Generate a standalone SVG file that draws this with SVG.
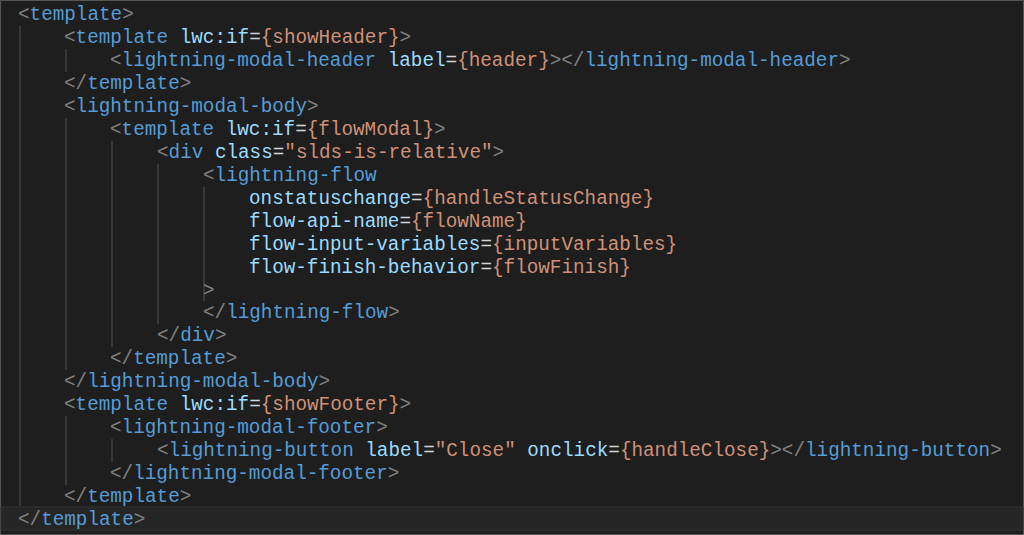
<svg xmlns="http://www.w3.org/2000/svg" width="1024" height="535" viewBox="0 0 1024 535">
<style>
text{font-family:"Liberation Mono","DejaVu Sans Mono",monospace;font-size:19.3px;white-space:pre}
.p{fill:#808080}.t{fill:#569cd6}.a{fill:#9cdcfe}.s{fill:#ce9178}.w{fill:#d4d4d4}
.g{stroke:#404040;stroke-width:1.5}
</style>
<rect width="1024" height="535" fill="#1e1e1e"/>
<rect x="0.5" y="0.5" width="1023" height="534" fill="none" stroke="#555"/>
<rect x="1" y="507" width="1022" height="23" fill="#252525" stroke="#333"/>
<g id="guides">
<line class="g" x1="20" y1="26" x2="20" y2="506"/>
<line class="g" x1="66" y1="49" x2="66" y2="72"/>
<line class="g" x1="66" y1="118" x2="66" y2="370"/>
<line class="g" x1="112" y1="141" x2="112" y2="347"/>
<line class="g" x1="158" y1="164" x2="158" y2="324"/>
<line class="g" x1="204" y1="187" x2="204" y2="301"/>
<line class="g" x1="66" y1="416" x2="66" y2="485"/>
<line class="g" x1="112" y1="439" x2="112" y2="462"/>
</g>
<g id="code">
<text x="18" y="20"><tspan class="p">&lt;</tspan><tspan class="t">template</tspan><tspan class="p">&gt;</tspan></text>
<text x="64" y="43"><tspan class="p">&lt;</tspan><tspan class="t">template </tspan><tspan class="a">lwc:if</tspan><tspan class="w">=</tspan><tspan class="s">{showHeader}</tspan><tspan class="p">&gt;</tspan></text>
<text x="110" y="66"><tspan class="p">&lt;</tspan><tspan class="t">lightning-modal-header </tspan><tspan class="a">label</tspan><tspan class="w">=</tspan><tspan class="s">{header}</tspan><tspan class="p">&gt;&lt;/</tspan><tspan class="t">lightning-modal-header</tspan><tspan class="p">&gt;</tspan></text>
<text x="64" y="89"><tspan class="p">&lt;/</tspan><tspan class="t">template</tspan><tspan class="p">&gt;</tspan></text>
<text x="64" y="112"><tspan class="p">&lt;</tspan><tspan class="t">lightning-modal-body</tspan><tspan class="p">&gt;</tspan></text>
<text x="110" y="135"><tspan class="p">&lt;</tspan><tspan class="t">template </tspan><tspan class="a">lwc:if</tspan><tspan class="w">=</tspan><tspan class="s">{flowModal}</tspan><tspan class="p">&gt;</tspan></text>
<text x="157" y="158"><tspan class="p">&lt;</tspan><tspan class="t">div </tspan><tspan class="a">class</tspan><tspan class="w">=</tspan><tspan class="s">"slds-is-relative"</tspan><tspan class="p">&gt;</tspan></text>
<text x="203" y="181"><tspan class="p">&lt;</tspan><tspan class="t">lightning-flow</tspan></text>
<text x="249" y="204"><tspan class="a">onstatuschange</tspan><tspan class="w">=</tspan><tspan class="s">{handleStatusChange}</tspan></text>
<text x="249" y="227"><tspan class="a">flow-api-name</tspan><tspan class="w">=</tspan><tspan class="s">{flowName}</tspan></text>
<text x="249" y="250"><tspan class="a">flow-input-variables</tspan><tspan class="w">=</tspan><tspan class="s">{inputVariables}</tspan></text>
<text x="249" y="273"><tspan class="a">flow-finish-behavior</tspan><tspan class="w">=</tspan><tspan class="s">{flowFinish}</tspan></text>
<text x="203" y="296"><tspan class="p">&gt;</tspan></text>
<text x="203" y="318"><tspan class="p">&lt;/</tspan><tspan class="t">lightning-flow</tspan><tspan class="p">&gt;</tspan></text>
<text x="157" y="341"><tspan class="p">&lt;/</tspan><tspan class="t">div</tspan><tspan class="p">&gt;</tspan></text>
<text x="110" y="364"><tspan class="p">&lt;/</tspan><tspan class="t">template</tspan><tspan class="p">&gt;</tspan></text>
<text x="64" y="387"><tspan class="p">&lt;/</tspan><tspan class="t">lightning-modal-body</tspan><tspan class="p">&gt;</tspan></text>
<text x="64" y="410"><tspan class="p">&lt;</tspan><tspan class="t">template </tspan><tspan class="a">lwc:if</tspan><tspan class="w">=</tspan><tspan class="s">{showFooter}</tspan><tspan class="p">&gt;</tspan></text>
<text x="110" y="433"><tspan class="p">&lt;</tspan><tspan class="t">lightning-modal-footer</tspan><tspan class="p">&gt;</tspan></text>
<text x="157" y="456"><tspan class="p">&lt;</tspan><tspan class="t">lightning-button </tspan><tspan class="a">label</tspan><tspan class="w">=</tspan><tspan class="s">"Close" </tspan><tspan class="a">onclick</tspan><tspan class="w">=</tspan><tspan class="s">{handleClose}</tspan><tspan class="p">&gt;&lt;/</tspan><tspan class="t">lightning-button</tspan><tspan class="p">&gt;</tspan></text>
<text x="110" y="479"><tspan class="p">&lt;/</tspan><tspan class="t">lightning-modal-footer</tspan><tspan class="p">&gt;</tspan></text>
<text x="64" y="502"><tspan class="p">&lt;/</tspan><tspan class="t">template</tspan><tspan class="p">&gt;</tspan></text>
<text x="18" y="525"><tspan class="p">&lt;/</tspan><tspan class="t">template</tspan><tspan class="p">&gt;</tspan></text>
</g>
</svg>
